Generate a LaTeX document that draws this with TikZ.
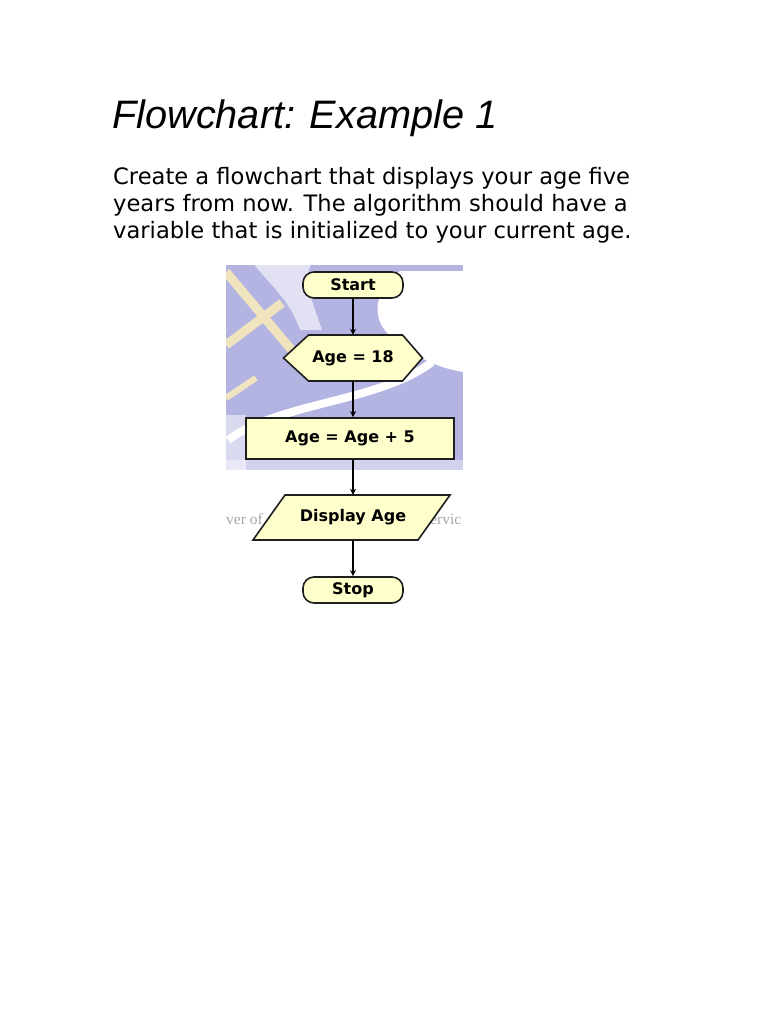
\documentclass[tikz,border=0pt]{standalone}
\usepackage{fontspec}
\setmainfont{DejaVu Sans}
\newfontfamily\titlefont{Liberation Sans}
\newfontfamily\boxfont{DejaVu Sans}
\newfontfamily\wmfont{Liberation Serif}
\usetikzlibrary{arrows.meta}
\definecolor{lav}{RGB}{180,180,226}
\definecolor{ylw}{RGB}{240,228,190}
\definecolor{boxfill}{RGB}{255,255,204}
\definecolor{boxline}{RGB}{30,30,30}
\definecolor{wmgray}{RGB}{165,165,165}
\begin{document}
\begin{tikzpicture}[x=1pt,y=-1pt,
  bodytext/.style={anchor=base west, inner sep=0pt, font=\fontsize{22.6}{27}\selectfont},
  boxtext/.style={font=\boxfont\bfseries\fontsize{16}{18}\selectfont, text=black},
  terminal/.style={boxtext, draw=boxline, fill=boxfill, line width=1.6pt, rounded corners=11pt,
    minimum width=100pt, minimum height=26pt, inner sep=0pt},
  process/.style={boxtext, draw=boxline, fill=boxfill, line width=1.6pt,
    minimum width=208pt, minimum height=41pt, inner sep=0pt},
  shapebox/.style={boxtext, inner sep=0pt},
  shapeline/.style={draw=boxline, fill=boxfill, line width=1.6pt, line join=miter},
  flow/.style={draw=black, line width=2pt, -{Stealth[length=6pt,width=6pt]}},
  wmtext/.style={anchor=base west, inner sep=0pt, text=wmgray, font=\wmfont\fontsize{15.5}{17}\selectfont}
]
\fill[white] (0,0) rectangle (768,1024);
\useasboundingbox (0,0) rectangle (768,1024);

% title and text
\node[anchor=base west, inner sep=0pt, font=\titlefont\itshape\fontsize{39.7}{46}\selectfont] (title) at (112,129) {Flowchart: Example 1};
\node[bodytext] (l1) at (113,185) {Create a flowchart that displays your age five};
\node[bodytext] (l2) at (113,211.5) {years from now. The algorithm should have a};
\node[bodytext] (l3) at (113,238) {variable that is initialized to your current age.};

% background picture
\begin{scope}
  \clip (226,262) rectangle (463,470);
  \fill[lav] (226,262) rectangle (463,470);
  \fill[white] (226,262) rectangle (463,265);
  \draw[ylw, line width=9pt] (226,272) -- (300,360);
  \draw[ylw, line width=9pt] (226,345) -- (282,303);
  \draw[ylw, line width=6pt] (226,398) -- (256,378);
  \fill[white, opacity=.6] (252,262) .. controls (270,285) and (290,300) .. (300,330) -- (322,330) .. controls (312,300) and (302,280) .. (312,262) -- cycle;
  \fill[white] (400,271) .. controls (372,292) and (370,322) .. (395,340) .. controls (420,360) and (440,368) .. (463,372) -- (463,271) -- cycle;
  \draw[white, line width=8pt] (228,440) .. controls (280,402) and (380,402) .. (432,362);
  \fill[white, opacity=.5] (226,415) rectangle (246,470);
  \fill[white, opacity=.4] (226,460) rectangle (463,470);
\end{scope}
\begin{scope}
  \clip (226,470) rectangle (463,610);
  \node[wmtext] (wm1) at (226,524) {ver of};
  \node[wmtext] (wm2) at (430,524) {ervic};
\end{scope}

% hexagon and parallelogram outlines
\path[shapeline] (283.5,358) -- (308.5,335) -- (402.5,335) -- (422.5,358) -- (402.5,381) -- (308.5,381) -- cycle;
\path[shapeline] (285,495) -- (450,495) -- (418,540) -- (253,540) -- cycle;

% nodes
\node[terminal] (start) at (353,285) {Start};
\node[shapebox, minimum width=139pt, minimum height=46pt] (init) at (353,358) {Age = 18};
\node[process] (upd) at (350,438.5) {Age = Age + 5};
\node[shapebox, minimum width=165pt, minimum height=45pt] (disp) at (353,517.5) {Display Age};
\node[terminal] (stop) at (353,590) {Stop};

% connectors
\draw[flow] (start.south) -- (init.north);
\draw[flow] (init.south) -- (init.south |- upd.north);
\draw[flow] (init.south |- upd.south) -- (disp.north);
\draw[flow] (disp.south) -- (stop.north);
\end{tikzpicture}
\end{document}
